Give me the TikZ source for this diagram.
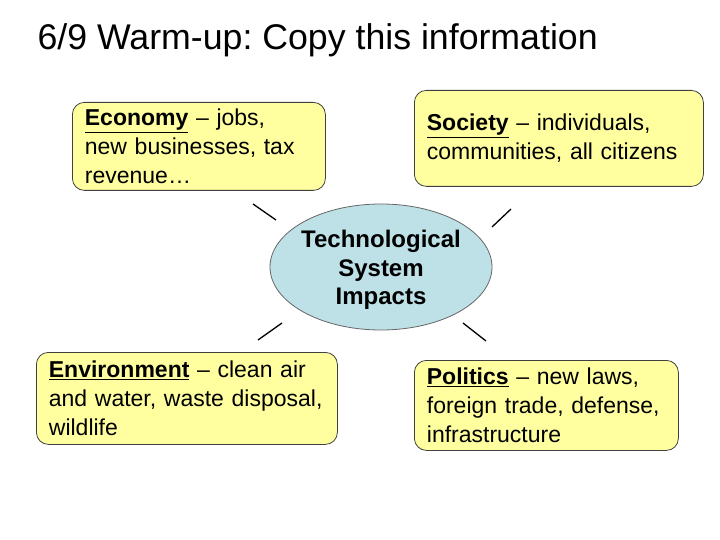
\documentclass[tikz,border=0pt]{standalone}
\usepackage{fontspec}
\setmainfont{Liberation Sans}
\usetikzlibrary{shapes.geometric}
\definecolor{boxyellow}{RGB}{255,255,160}
\definecolor{ovalblue}{RGB}{190,225,232}
\frenchspacing

\tikzset{
  infobox/.style={draw=black!75, fill=boxyellow, rounded corners=12pt, line width=0.8pt,
    anchor=north west, align=left, inner xsep=12.5pt, inner ysep=0pt,
    font=\fontsize{23}{29}\selectfont},
  tick/.style={black, line width=1.3pt}
}
\newcommand{\topic}[1]{\underline{\textbf{#1}}}

\begin{document}
\begin{tikzpicture}[x=1pt, y=-1pt]
     \useasboundingbox (0,0) rectangle (720,540);

     \node[anchor=base west, font=\fontsize{35.7}{40}\selectfont] (title) at (34,50) {6/9 Warm-up: Copy this information};

     \node[infobox, text width=228pt, minimum height=88pt] (econ) at (72,102)
          {\topic{Economy} -- jobs,\\ new businesses, tax\\ revenue\dots};
     \node[infobox, text width=264pt, minimum height=96pt] (soc) at (414,90)
          {\topic{Society} -- individuals,\\ communities, all citizens};
     \node[infobox, text width=276pt, minimum height=92pt] (env) at (36,352)
          {\topic{Environment} -- clean air\\ and water, waste disposal,\\ wildlife};
     \node[infobox, text width=239pt, minimum height=90pt] (pol) at (414,360)
          {\topic{Politics} -- new laws,\\ foreign trade, defense,\\ infrastructure};

     \node[ellipse, draw=black!60, fill=ovalblue, line width=0.8pt, minimum width=222pt, minimum height=126pt,
           inner sep=0pt] (tech) at (381,267) {};
     \node[align=center, font=\fontsize{24}{28.5}\selectfont\bfseries] (techtxt) at ([yshift=-3pt]tech.center)
          {Technological\\ System\\ Impacts};

     % short strokes round the oval
     \coordinate (TLa) at (253,204);
     \coordinate (TLb) at (276,220);
     \coordinate (TRa) at (492,227);
     \coordinate (TRb) at (511,209);
     \coordinate (BLa) at (258,340);
     \coordinate (BLb) at (282,323);
     \coordinate (BRa) at (463,323);
     \coordinate (BRb) at (486,341);
     \draw[tick] (TLa) -- (TLb);
     \draw[tick] (TRa) -- (TRb);
     \draw[tick] (BLa) -- (BLb);
     \draw[tick] (BRa) -- (BRb);
\end{tikzpicture}
\end{document}
